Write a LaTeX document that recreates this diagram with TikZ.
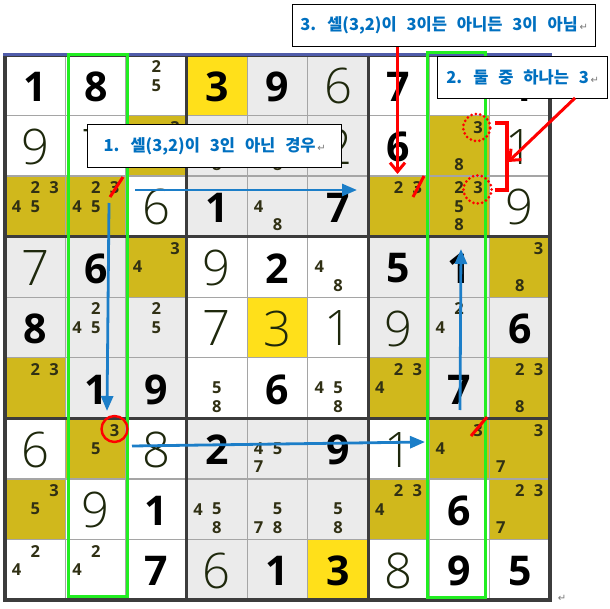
\documentclass[tikz,border=0pt]{standalone}
\usepackage{fontspec}
\setmainfont{Open Sans}
\IfFontExistsTF{Open Sans Light}{\newfontfamily\thinfont{Open Sans Light}}{%
  \IfFontExistsTF{Fira Sans Light}{\newfontfamily\thinfont{Fira Sans Light}}{\newfontfamily\thinfont{Open Sans}}}
\newfontfamily\kor{Noto Sans CJK KR}
\newfontfamily\dvs{DejaVu Sans}
\usetikzlibrary{arrows.meta}
\definecolor{olive}{RGB}{208,184,28}
\definecolor{yel}{RGB}{255,224,26}
\definecolor{lgray}{RGB}{235,235,235}
\definecolor{thincol}{RGB}{30,40,12}
\definecolor{candcol}{RGB}{48,48,20}
\definecolor{gridthin}{RGB}{165,165,165}
\definecolor{gridthick}{RGB}{60,60,60}
\definecolor{topedge}{RGB}{80,92,170}
\definecolor{txtblue}{RGB}{0,112,192}
\definecolor{arrblue}{RGB}{28,126,200}
\definecolor{hgreen}{RGB}{34,238,34}
\definecolor{pmark}{RGB}{120,120,120}
\newcommand\pmk{{\dvs\mdseries\color{pmark}\fontsize{10}{10}\selectfont\,↵}}
\newcommand\widesp{\spaceskip=0.6em\relax}
\begin{document}
\begin{tikzpicture}[x=1pt,y=-1pt,
  bignum/.style={inner sep=0pt,text=black,font=\fontsize{41}{41}\selectfont\bfseries},
  thinnum/.style={inner sep=0pt,text=thincol,font=\thinfont\fontsize{49}{49}\selectfont},
  cand/.style={inner sep=0pt,text=candcol,font=\fontsize{16.5}{16.5}\selectfont\bfseries},
  callout/.style={draw=black,line width=1.2pt,fill=white,inner sep=0pt,text=txtblue,
     font=\kor\bfseries\fontsize{16.5}{16.5}\selectfont,anchor=north west},
  thinline/.style={draw=gridthin,line width=1.4pt},
  thickline/.style={draw=gridthick,line width=3.4pt},
  hl/.style={draw=hgreen,line width=3pt},
  bluearr/.style={draw=arrblue,line width=2.8pt,-{Triangle[length=15pt,width=12pt]}},
  redarr/.style={draw=red,line width=3pt,-{Straight Barb[length=9pt,width=15pt]}},
  redmark/.style={draw=red,line width=3pt},
  dotcirc/.style={draw=red,line width=3pt,dash pattern=on 0pt off 4.4pt,line cap=round}]
\useasboundingbox (0,0) rectangle (610,609);
\fill[white] (0,0) rectangle (610,609);
\def\cs{60.5556}
% box shading
\foreach \br/\bc in {0/1,1/0,1/2,2/1}
  \fill[lgray] ({5+\bc*3*\cs},{55+\br*3*\cs}) rectangle ++({3*\cs},{3*\cs});
\foreach \rr/\cc in {2/3,2/8,3/1,3/2,3/7,3/8,4/3,4/9,6/1,6/7,6/9,7/2,7/8,7/9,8/1,8/7,8/9}
  \fill[olive] ({5+(\cc-1)*\cs},{55+(\rr-1)*\cs}) rectangle ++(\cs,\cs);
\foreach \rr/\cc in {1/4,5/5,9/6}
  \fill[yel] ({5+(\cc-1)*\cs},{55+(\rr-1)*\cs}) rectangle ++(\cs,\cs);
% grid
\foreach \i in {1,2,4,5,7,8} {
  \draw[thinline] ({5+\i*\cs},55) -- ({5+\i*\cs},600);
  \draw[thinline] (5,{55+\i*\cs}) -- (550,{55+\i*\cs});
}
\foreach \i in {3,6} {
  \draw[thickline] ({5+\i*\cs},55) -- ({5+\i*\cs},600);
  \draw[thickline] (5,{55+\i*\cs}) -- (550,{55+\i*\cs});
}
\draw[draw=gridthick,line width=4pt] (5,55) rectangle (550,600);
\draw[draw=topedge,line width=2.5pt] (3,54.5) -- (552,54.5);
% given digits
\foreach \rr/\cc/\d in {1/1/1,1/2/8,1/4/3,1/5/9,1/7/7,2/7/6,3/4/1,3/6/7,4/2/6,4/5/2,4/7/5,4/8/1,
   5/1/8,5/9/6,6/2/1,6/3/9,6/5/6,6/8/7,7/4/2,7/6/9,8/3/1,8/8/6,9/3/7,9/5/1,9/6/3,9/8/9,9/9/5}
  \node[bignum] (g\rr\cc) at ({5+(\cc-0.5)*\cs},{55+(\rr-0.5)*\cs+1.5}) {\d};
% digit of cell (1,9), mostly hidden under callout 2
\begin{scope}
  \clip (490,98.5) rectangle (549,115);
  \node[bignum] (g19) at ({5+8.5*\cs},{55+0.5*\cs+1.5}) {4};
\end{scope}
% solved digits
\foreach \rr/\cc/\d in {1/6/6,2/1/9,2/2/7,2/6/2,2/9/1,3/3/6,3/9/9,4/1/7,4/4/9,5/4/7,5/5/3,5/6/1,5/7/9,
   7/1/6,7/3/8,7/7/1,8/2/9,9/4/6,9/7/8}
  \node[thinnum] (s\rr\cc) at ({5+(\cc-0.5)*\cs},{55+(\rr-0.5)*\cs+1}) {\d};
% candidates
\foreach \rr/\cc/\ds in {1/3/{2,5},2/3/{3},2/4/{8},2/5/{8},2/8/{3,8},3/1/{2,3,4,5},3/2/{2,3,4,5},
   3/5/{4,8},3/7/{2,3},3/8/{2,3,5,8},4/3/{3,4},4/6/{4,8},4/9/{3,8},5/2/{2,4,5},5/3/{2,5},5/8/{2,4},
   6/1/{2,3},6/4/{5,8},6/6/{4,5,8},6/7/{2,3,4},6/9/{2,3,8},7/2/{3,5},7/5/{4,5,7},7/8/{3,4},7/9/{3,7},
   8/1/{3,5},8/4/{4,5,8},8/5/{5,7,8},8/6/{5,8},8/7/{2,3,4},8/9/{2,3,7},9/1/{2,4},9/2/{2,4}} {
  \foreach \d in \ds {
    \pgfmathtruncatemacro\ox{mod(\d-1,3)-1}
    \pgfmathtruncatemacro\oy{div(\d-1,3)-1}
    \node[cand] (k\rr\cc\d) at ({5+(\cc-0.5)*\cs+\ox*18.8},{55+(\rr-0.5)*\cs+\oy*18.5}) {\d};
  }
}
% green highlight columns
\draw[hl] (68,55) rectangle (127,596);
\draw[hl] (427,53) rectangle (485,597);
% blue arrows
\coordinate (a1s) at (135,190);   \coordinate (a1e) at (357,190);
\coordinate (a2s) at (109,203);   \coordinate (a2e) at (107,411);
\coordinate (a3s) at (132,446);   \coordinate (a3e) at (425,442);
\coordinate (a4s) at (460,410);   \coordinate (a4e) at (461,249);
\draw[bluearr] (a1s) -- (a1e);
\draw[bluearr] (a2s) -- (a2e);
\draw[bluearr] (a3s) -- (a3e);
\draw[bluearr] (a4s) -- (a4e);
% red marks
\draw[redmark] (110,197) -- (123,177);
\draw[redmark] (413,197) -- (424,176);
\draw[redmark] (471,436) -- (487,417);
\draw[draw=red,line width=2.4pt] (114.5,429) circle[radius=13pt];
\draw[dotcirc] (476.7,127.5) circle[radius=13.5pt];
\draw[dotcirc] (477.5,189.5) circle[radius=14pt];
\draw[draw=red,line width=4pt] (495,123) -- (507,123) -- (507,190) -- (495,190);
% callouts
\node[callout,minimum width=254pt,minimum height=43pt] (b1) at (87,124) {\widesp 1. 셀(3,2)이 3인 아닌 경우\pmk};
\node[callout,minimum width=170pt,minimum height=42pt] (b2) at (437,56) {\widesp 2. 둘 중 하나는 3\pmk};
\node[callout,minimum width=303pt,minimum height=42pt] (b3) at (292,4) {\widesp 3. 셀(3,2)이 3이든 아니든 3이 아님\pmk};
% red arrows from callouts
\coordinate (r3e) at (397.5,174);
\draw[redarr] (b3.south -| r3e) -- (r3e);
\coordinate (r2s) at (575,98);
\coordinate (r2e) at (508,162);
\draw[redarr] (r2s) -- (r2e);
\node[inner sep=0pt,font=\dvs\fontsize{10}{10}\selectfont,text=pmark] (pm) at (562,598) {↵};
\end{tikzpicture}
\end{document}
